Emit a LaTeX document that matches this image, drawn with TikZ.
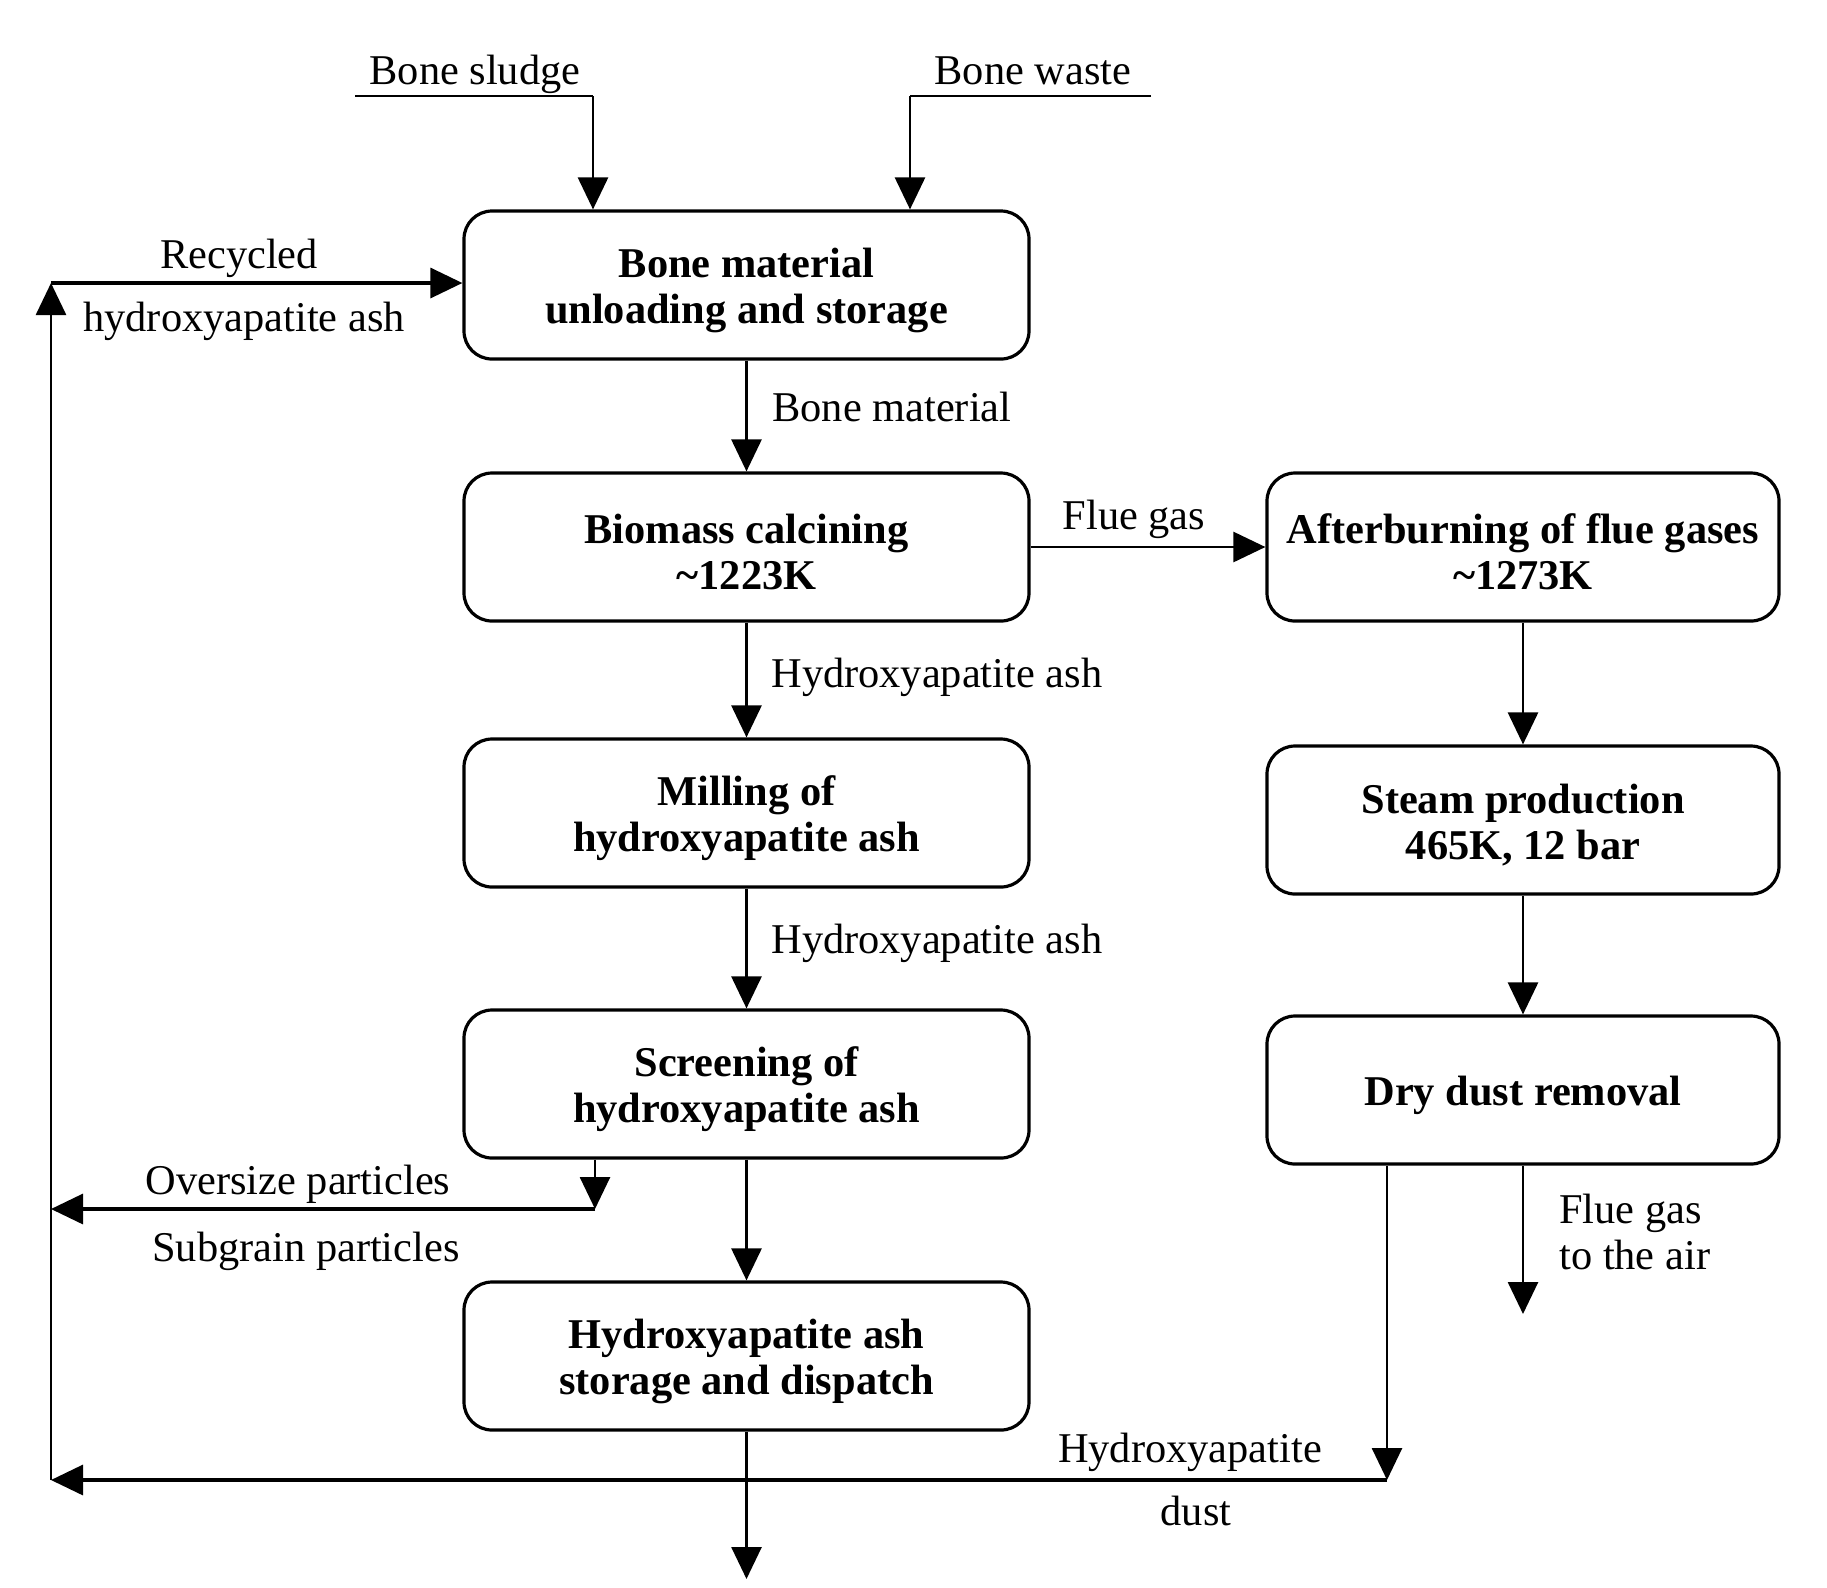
\documentclass[tikz,border=0pt]{standalone}
\usepackage{fontspec}
\setmainfont{Liberation Serif}
\usepackage{tikz}
\usetikzlibrary{arrows.meta, positioning, calc}

\newcommand{\firststrut}{\rule{0pt}{20pt}}

\tikzset{
    procbox/.style={draw, line width=1.6pt, rounded corners=14pt,
        minimum width=282.5pt, minimum height=74pt, inner sep=0pt,
        align=center, font=\fontsize{21.2}{23}\selectfont\bfseries},
    sidebox/.style={procbox, minimum width=256pt},
    flow/.style={line width=1.35pt, -{Triangle[length=16pt,width=15pt]}},
    back/.style={flow, line width=1.6pt},
    lbl/.style={inner sep=0pt, text height=14pt, text depth=0pt,
        font=\fontsize{21.2}{23}\selectfont},
    lbltwo/.style={inner sep=0pt, align=left,
        font=\fontsize{21.2}{23}\selectfont}
}

\begin{document}
\begin{tikzpicture}[x=0.5pt, y=-0.5pt]
    \useasboundingbox (0,0) rectangle (1827,1587);
    % Main line (left column)
    \node[procbox] (unload)   at (746.5,285)  {\firststrut Bone material\\unloading and storage};
    \node[procbox] (calcine)  at (746.5,547)  {\firststrut Biomass calcining\\\textasciitilde1223K};
    \node[procbox] (mill)     at (746.5,813)  {\firststrut Milling of\\hydroxyapatite ash};
    \node[procbox] (screen)   at (746.5,1084) {\firststrut Screening of\\hydroxyapatite ash};
    \node[procbox] (dispatch) at (746.5,1356) {\firststrut Hydroxyapatite ash\\storage and dispatch};
    % Flue gas line (right column)
    \node[sidebox] (afterburn) at (1523,547)  {\firststrut Afterburning of flue gases\\\textasciitilde1273K};
    \node[sidebox] (steam)     at (1523,820)  {\firststrut Steam production\\465K, 12 bar};
    \node[sidebox] (dedust)    at (1523,1090) {\firststrut Dry dust removal};
    % Feed coordinates
    \coordinate (sludgeL) at (355,96);
    \coordinate (sludgeK) at (593,96);
    \coordinate (wasteR)  at (1151,96);
    \coordinate (wasteK)  at (910,96);
    \coordinate (recycT)  at (51,283);
    \coordinate (recycB)  at (51,1480);
    \coordinate (overK)   at (595,1209);
    \coordinate (overL)   at (51,1209);
    \coordinate (dustK)   at (1387,1480);
    \coordinate (prodEnd) at (746.5,1579);
    \coordinate (airEnd)  at (1523,1314);
    % Feeds
    \draw[line width=1.35pt] (sludgeL) -- (sludgeK);
    \draw[flow] (sludgeK) -- (sludgeK |- unload.north);
    \draw[line width=1.35pt] (wasteR) -- (wasteK);
    \draw[flow] (wasteK) -- (wasteK |- unload.north);
    \node[lbl] (sludgelbl) at (475,70)  {Bone sludge};
    \node[lbl] (wastelbl)  at (1033,70) {Bone waste};
    % Main flow
    \draw[flow] (unload) -- (calcine);
    \draw[flow] (calcine) -- (mill);
    \draw[flow] (mill) -- (screen);
    \draw[flow] (screen) -- (dispatch);
    \draw[flow] (dispatch) -- (prodEnd);
    \node[lbl, anchor=west] (bonelbl) at (772,407) {Bone material};
    \node[lbl, anchor=west] (ash1lbl) at (771,673) {Hydroxyapatite ash};
    \node[lbl, anchor=west] (ash2lbl) at (771,939) {Hydroxyapatite ash};
    % Flue gas
    \draw[flow] (calcine) -- (afterburn);
    \draw[flow] (afterburn) -- (steam);
    \draw[flow] (steam) -- (dedust);
    \draw[flow] (dedust) -- (airEnd);
    \node[lbl] (fluelbl) at (1134,515) {Flue gas};
    \node[lbltwo, anchor=west] (airlbl) at (1559,1232)
        {Flue gas\\to the air};
    % Oversize / subgrain return
    \draw[flow] (overK |- screen.south) -- (overK);
    \draw[back] (overK) -- (overL);
    \node[lbl] (overlbl) at (298,1180) {Oversize particles};
    \node[lbl] (sublbl)  at (306,1247) {Subgrain particles};
    % Dust return and recycle
    \draw[flow] (dustK |- dedust.south) -- (dustK);
    \draw[back] (dustK) -- (recycB);
    \draw[flow] (recycB) -- (recycT);
    \draw[back] (recycT) -- (recycT -| unload.west);
    \node[lbl] (dustlbl1) at (1190,1448) {Hydroxyapatite};
    \node[lbl] (dustlbl2) at (1196,1511) {dust};
    \node[lbl] (recyclbl1) at (239,254) {Recycled};
    \node[lbl] (recyclbl2) at (244,317) {hydroxyapatite ash};
\end{tikzpicture}
\end{document}
